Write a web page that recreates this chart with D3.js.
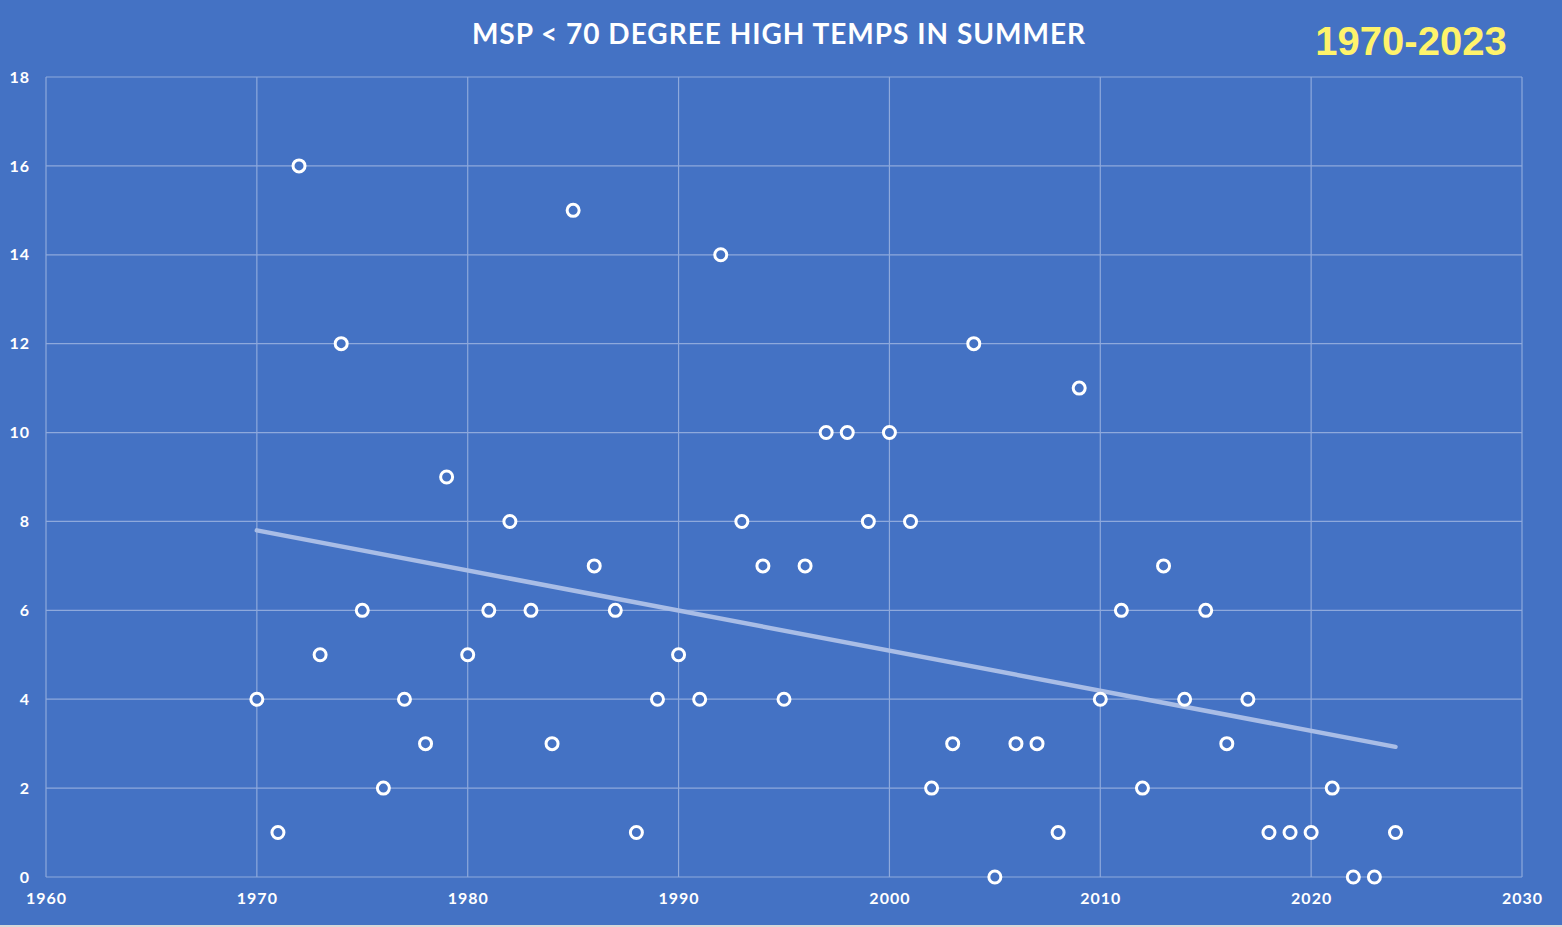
<!DOCTYPE html>
<html>
<head>
<meta charset="utf-8">
<script src="https://cdn.jsdelivr.net/npm/d3@7"></script>
<style>
  html, body { margin: 0; padding: 0; background: #4472c4; overflow: hidden; }
  svg { display: block; }
</style>
</head>
<body>
<div id="chart"></div>
<script>
(() => {
    // datos
    const years = [1970, 1971, 1972, 1973, 1974, 1975, 1976, 1977, 1978, 1979,
                   1980, 1981, 1982, 1983, 1984, 1985, 1986, 1987, 1988, 1989,
                   1990, 1991, 1992, 1993, 1994, 1995, 1996, 1997, 1998, 1999,
                   2000, 2001, 2002, 2003, 2004, 2005, 2006, 2007, 2008, 2009,
                   2010, 2011, 2012, 2013, 2014, 2015, 2016, 2017, 2018, 2019,
                   2020, 2021, 2022, 2023, 2024];
    const days = [4, 1, 16, 5, 12, 6, 2, 4, 3, 9,
                  5, 6, 8, 6, 3, 15, 7, 6, 1, 4,
                  5, 4, 14, 8, 7, 4, 7, 10, 10, 8,
                  10, 8, 2, 3, 12, 0, 3, 3, 1, 11,
                  4, 6, 2, 7, 4, 6, 3, 4, 1, 1,
                  1, 2, 0, 0, 1];
    const xTicks = [1960, 1970, 1980, 1990, 2000, 2010, 2020, 2030];
    const yTicks = [0, 2, 4, 6, 8, 10, 12, 14, 16, 18];

    const width = 1562;
    const height = 927;
    const margin = { top: 77, right: 40, bottom: 50, left: 46 };
    const bg = "#4472c4";

    const data = years.map((y, i) => ({ year: y, value: days[i] }));

    const svg = d3.select("#chart")
        .append("svg")
        .attr("width", width)
        .attr("height", height);

    svg.append("rect")
        .attr("width", width)
        .attr("height", height)
        .attr("fill", bg);

    const x = d3.scaleLinear().domain([1960, 2030]).range([margin.left, width - margin.right]);
    const y = d3.scaleLinear().domain([0, 18]).range([height - margin.bottom, margin.top]);

    // rejilla
    svg.append("g")
        .selectAll("line")
        .data(yTicks)
        .join("line")
        .attr("x1", x(1960)).attr("x2", x(2030))
        .attr("y1", d => y(d)).attr("y2", d => y(d))
        .attr("stroke", "#8ea9dc")
        .attr("stroke-width", 1.2);

    svg.append("g")
        .selectAll("line")
        .data(xTicks)
        .join("line")
        .attr("x1", d => x(d)).attr("x2", d => x(d))
        .attr("y1", y(0)).attr("y2", y(18))
        .attr("stroke", "#8ea9dc")
        .attr("stroke-width", 1.2);

    // ejes (solo texto)
    const xAxis = svg.append("g")
        .attr("transform", `translate(0, ${y(0)})`)
        .call(d3.axisBottom(x).tickValues(xTicks).tickFormat(d3.format("d")).tickSize(0).tickPadding(16));
    const yAxis = svg.append("g")
        .attr("transform", `translate(${x(1960)},0)`)
        .call(d3.axisLeft(y).tickValues(yTicks).tickSize(0).tickPadding(16));

    [xAxis, yAxis].forEach(g => {
        g.select(".domain").remove();
        g.selectAll("text")
            .attr("fill", "white")
            .style("font-family", "Lato, 'Open Sans', sans-serif")
            .style("font-weight", "bold")
            .style("font-size", "16px")
            .style("letter-spacing", "1px");
    });

    // línea de tendencia (mínimos cuadrados)
    const mx = d3.mean(data, d => d.year);
    const my = d3.mean(data, d => d.value);
    const slope = d3.sum(data, d => (d.year - mx) * (d.value - my)) / d3.sum(data, d => (d.year - mx) ** 2);
    const trend = d3.extent(years).map(t => ({ year: t, value: my + slope * (t - mx) }));

    svg.append("path")
        .datum(trend)
        .attr("fill", "none")
        .attr("stroke", "#a9bde6")
        .attr("stroke-width", 4.5)
        .attr("stroke-linecap", "round")
        .attr("d", d3.line().x(d => x(d.year)).y(d => y(d.value)));

    // puntos
    svg.append("g")
        .selectAll("circle")
        .data(data)
        .join("circle")
        .attr("cx", d => x(d.year))
        .attr("cy", d => y(d.value))
        .attr("r", 6)
        .attr("fill", bg)
        .attr("stroke", "white")
        .attr("stroke-width", 3);

    // títulos
    svg.append("text")
        .attr("x", 779)
        .attr("y", 44)
        .attr("text-anchor", "middle")
        .attr("fill", "white")
        .style("font-family", "Lato, 'Open Sans', sans-serif")
        .style("font-weight", "bold")
        .style("font-size", "28px")
        .style("letter-spacing", "1px")
        .text("MSP < 70 DEGREE HIGH TEMPS IN SUMMER");

    svg.append("text")
        .attr("x", 1411)
        .attr("y", 55)
        .attr("text-anchor", "middle")
        .attr("fill", "#fff36b")
        .style("font-family", "'Liberation Sans', Arial, sans-serif")
        .style("font-weight", "bold")
        .style("font-size", "40px")
        .text("1970-2023");

    // franja inferior de la hoja
    svg.append("rect")
        .attr("x", 0).attr("y", height - 2)
        .attr("width", width).attr("height", 2)
        .attr("fill", "#d9d9d9");
})();
</script>
</body>
</html>
